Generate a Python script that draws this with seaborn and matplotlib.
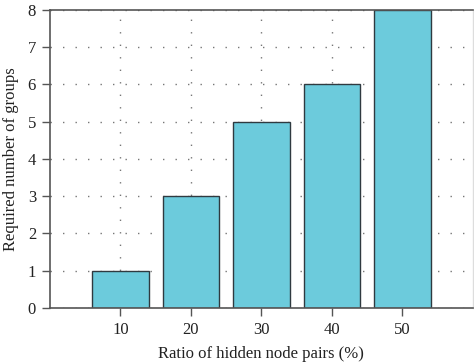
import matplotlib
matplotlib.use("Agg")
import matplotlib.pyplot as plt
import seaborn as sns
import pandas as pd

ratios = [10, 20, 30, 40, 50]
groups = [1, 3, 5, 6, 8]
xlabel = "Ratio of hidden node pairs (%)"
ylabel = "Required number of groups"

sns.set_style("white")
plt.rcParams['font.family'] = ['Liberation Serif', 'DejaVu Serif']

df = pd.DataFrame({"ratio": ratios, "groups": groups})

fig = plt.figure(figsize=(4.74, 3.63), dpi=100)
ax = fig.add_axes([0.1055, 0.1515, 0.892, 0.821])

ax.set_axisbelow(True)
ax.grid(True, linestyle=(0, (1, 8)), color="#777777", linewidth=1.0)

sns.barplot(data=df, x="ratio", y="groups", native_scale=True, width=0.8,
            color="#6CCBDC", saturation=1, edgecolor="#2f3a40", linewidth=1.0, ax=ax)

ax.set_xlim(0, 60)
ax.set_ylim(0, 8)
ax.set_xticks(ratios)
ax.set_xticklabels([str(r) for r in ratios])
ax.set_yticks(range(0, 9))
ax.set_xlabel(xlabel, fontsize=12, color="#222222", labelpad=6)
ax.set_ylabel(ylabel, fontsize=12, color="#222222", labelpad=6)
ax.tick_params(axis="both", direction="out", length=6, width=1, color="#555555",
               labelsize=12, labelcolor="#222222", bottom=True, left=True, pad=4)
for s in ["left", "bottom", "top"]:
    ax.spines[s].set_color("#555555")
    ax.spines[s].set_linewidth(1.2)
ax.spines["right"].set_color("#dddddd")
ax.spines["right"].set_linewidth(1.0)

fig.savefig("out.png", dpi=100)
